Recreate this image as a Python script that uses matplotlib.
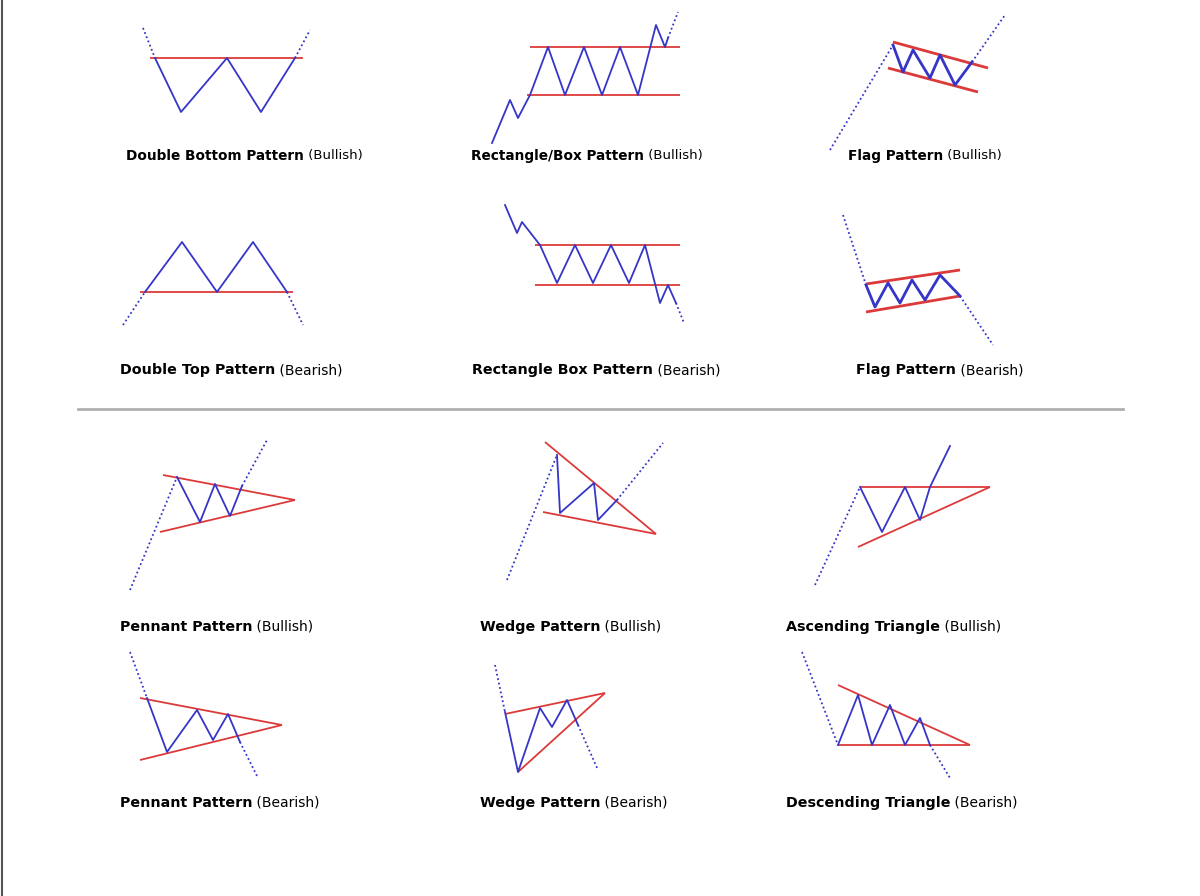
import matplotlib.pyplot as plt

# pattern sketches, in pixel coords of the 1200x896 sheet (y grows downward)
double_bottom_in = [(143, 28), (155, 58)]
double_bottom_solid = [(155, 58), (181, 112), (227, 58), (261, 112), (295, 58)]
double_bottom_out = [(295, 58), (310, 30)]
double_bottom_red = [[(150, 58), (303, 58)]]

rect_bull_in = []
rect_bull_solid = [(492, 143), (510, 100), (518, 118), (530, 95), (548, 47), (565, 95),
                   (584, 47), (602, 95), (620, 47), (638, 95), (656, 25), (665, 47), (668, 38)]
rect_bull_out = [(668, 38), (678, 12)]
rect_bull_red = [[(530, 47), (680, 47)], [(527, 95), (680, 95)]]

flag_bull_in = [(830, 150), (893, 45)]
flag_bull_solid = [(893, 45), (903, 72), (913, 50), (930, 78), (940, 55), (955, 85), (972, 62)]
flag_bull_out = [(972, 62), (1005, 15)]
flag_bull_red = [[(893, 42), (988, 68)], [(888, 68), (978, 92)]]

double_top_in = [(123, 325), (145, 292)]
double_top_solid = [(145, 292), (182, 242), (217, 292), (253, 242), (287, 292)]
double_top_out = [(287, 292), (303, 325)]
double_top_red = [[(140, 292), (293, 292)]]

rect_bear_in = []
rect_bear_solid = [(505, 205), (517, 233), (522, 222), (540, 245), (557, 283), (575, 245),
                   (593, 283), (611, 245), (629, 283), (645, 245), (660, 303), (668, 285),
                   (676, 303)]
rect_bear_out = [(676, 303), (684, 323)]
rect_bear_red = [[(535, 245), (680, 245)], [(535, 285), (680, 285)]]

flag_bear_in = [(843, 215), (866, 285)]
flag_bear_solid = [(866, 285), (875, 307), (888, 283), (900, 303), (912, 280), (925, 300),
                   (940, 275), (960, 296)]
flag_bear_out = [(960, 296), (993, 345)]
flag_bear_red = [[(866, 284), (960, 270)], [(866, 312), (960, 296)]]

pennant_bull_in = [(130, 590), (177, 477)]
pennant_bull_solid = [(177, 477), (200, 522), (215, 484), (230, 516), (242, 486)]
pennant_bull_out = [(242, 486), (267, 440)]
pennant_bull_red = [[(163, 475), (295, 500)], [(160, 532), (295, 500)]]

wedge_bull_in = [(507, 580), (557, 455)]
wedge_bull_solid = [(557, 455), (560, 513), (594, 483), (598, 520), (617, 500)]
wedge_bull_out = [(617, 500), (663, 443)]
wedge_bull_red = [[(545, 442), (656, 534)], [(543, 512), (656, 534)]]

asc_tri_in = [(815, 585), (860, 487)]
asc_tri_solid = [(860, 487), (882, 532), (905, 487), (920, 520), (930, 487), (950, 446)]
asc_tri_out = []
asc_tri_red = [[(860, 487), (990, 487)], [(858, 547), (990, 487)]]

pennant_bear_in = [(130, 652), (147, 698)]
pennant_bear_solid = [(147, 698), (167, 752), (197, 710), (213, 740), (228, 714), (240, 742)]
pennant_bear_out = [(240, 742), (258, 778)]
pennant_bear_red = [[(140, 698), (282, 725)], [(140, 760), (282, 725)]]

wedge_bear_in = [(495, 665), (505, 712)]
wedge_bear_solid = [(505, 712), (518, 772), (540, 708), (552, 727), (567, 700), (578, 725)]
wedge_bear_out = [(578, 725), (598, 770)]
wedge_bear_red = [[(505, 714), (605, 693)], [(518, 772), (605, 693)]]

desc_tri_in = [(802, 652), (838, 745)]
desc_tri_solid = [(838, 745), (858, 695), (872, 745), (890, 705), (905, 745), (920, 718),
                  (930, 745)]
desc_tri_out = [(930, 745), (950, 778)]
desc_tri_red = [[(838, 685), (970, 745)], [(838, 745), (970, 745)]]

patterns = [
    ("Double Bottom Pattern", "(Bullish)", (126, 156), double_bottom_in, double_bottom_solid, double_bottom_out, double_bottom_red, 1.3),
    ("Rectangle/Box Pattern", "(Bullish)", (471, 156), rect_bull_in, rect_bull_solid, rect_bull_out, rect_bull_red, 1.3),
    ("Flag Pattern", "(Bullish)", (848, 156), flag_bull_in, flag_bull_solid, flag_bull_out, flag_bull_red, 2.0),
    ("Double Top Pattern", "(Bearish)", (120, 370), double_top_in, double_top_solid, double_top_out, double_top_red, 1.3),
    ("Rectangle Box Pattern", "(Bearish)", (472, 370), rect_bear_in, rect_bear_solid, rect_bear_out, rect_bear_red, 1.3),
    ("Flag Pattern", "(Bearish)", (856, 370), flag_bear_in, flag_bear_solid, flag_bear_out, flag_bear_red, 2.0),
    ("Pennant Pattern", "(Bullish)", (120, 627), pennant_bull_in, pennant_bull_solid, pennant_bull_out, pennant_bull_red, 1.3),
    ("Wedge Pattern", "(Bullish)", (480, 627), wedge_bull_in, wedge_bull_solid, wedge_bull_out, wedge_bull_red, 1.3),
    ("Ascending Triangle", "(Bullish)", (786, 627), asc_tri_in, asc_tri_solid, asc_tri_out, asc_tri_red, 1.3),
    ("Pennant Pattern", "(Bearish)", (120, 803), pennant_bear_in, pennant_bear_solid, pennant_bear_out, pennant_bear_red, 1.3),
    ("Wedge Pattern", "(Bearish)", (480, 803), wedge_bear_in, wedge_bear_solid, wedge_bear_out, wedge_bear_red, 1.3),
    ("Descending Triangle", "(Bearish)", (786, 803), desc_tri_in, desc_tri_solid, desc_tri_out, desc_tri_red, 1.3),
]

BLUE = "#3535c8"
RED = "#dc3a3a"

fig = plt.figure(figsize=(12, 8.96), dpi=100)
ax = fig.add_axes([0, 0, 1, 1])
ax.set_xlim(0, 1200)
ax.set_ylim(896, 0)
ax.axis("off")

# sheet edge and separator
ax.plot([2, 2], [0, 896], color="#555555", lw=1.5)
ax.plot([78, 1123], [409, 409], color="#b0b0b0", lw=2)


def xs(pts):
    return [p[0] for p in pts]


def ys(pts):
    return [p[1] for p in pts]


for i, (bold, normal, (lx, ly), d_in, solid, d_out, reds, lw) in enumerate(patterns):
    for seg in reds:
        ax.plot(xs(seg), ys(seg), color=RED, lw=lw, solid_capstyle="butt")
    for d in (d_in, d_out):
        if d:
            ax.plot(xs(d), ys(d), color=BLUE, lw=1.3, linestyle=(0, (1, 1.5)))
    ax.plot(xs(solid), ys(solid), color=BLUE, lw=lw)
    size = 9.8 if i < 3 else 10.3
    t = ax.text(lx, ly, bold, fontsize=size, fontweight="bold", va="center", ha="left")
    ax.annotate(" " + normal, xy=(1, 0.5), xycoords=t, va="center", ha="left",
                fontsize=size - 0.3)

fig.savefig("out.png", dpi=100, facecolor="white")
